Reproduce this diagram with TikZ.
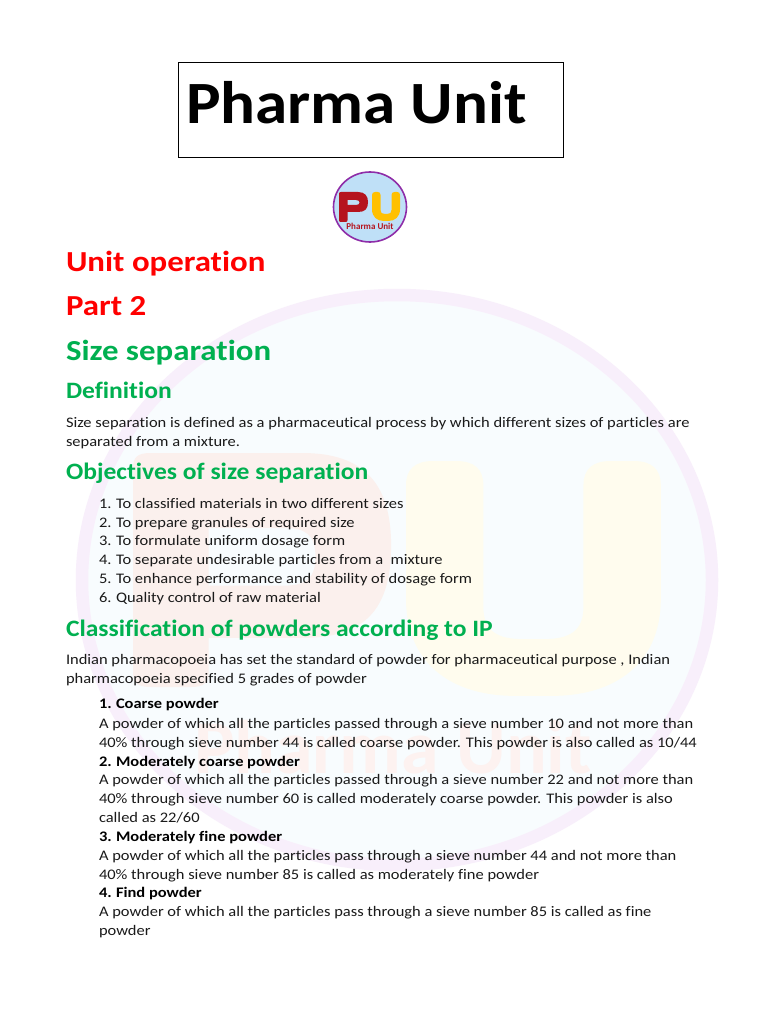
\documentclass[tikz,border=0pt]{standalone}
\usepackage{fontspec}
\setmainfont[FakeStretch=1.128,Ligatures=NoCommon]{Carlito}
\newfontfamily\headfont[FakeStretch=1.133,Ligatures=NoCommon]{Carlito}
\newfontfamily\subfont[FakeStretch=1.088,Ligatures=NoCommon]{Carlito}
\newfontfamily\titlefont[FakeStretch=1.085,Ligatures=NoCommon]{Carlito}
\newfontfamily\plainfont[Ligatures=NoCommon]{Carlito}
\definecolor{hred}{HTML}{FF0000}
\definecolor{hgreen}{HTML}{00B050}
\definecolor{btext}{HTML}{1A1A1A}
\definecolor{wmring}{HTML}{F8EFFB}
\definecolor{wmfill}{HTML}{F8FCFE}
\definecolor{wmp}{HTML}{FBF0ED}
\definecolor{wmu}{HTML}{FFFCEE}
\definecolor{wmtext}{HTML}{FDF2F0}
\definecolor{lgring}{HTML}{8E2DA8}
\definecolor{lgfill}{HTML}{BFE0F7}
\definecolor{lgp}{HTML}{B5141E}
\definecolor{lgu}{HTML}{FFC000}
% #1 bowl bottom, #2 hole top, #3 hole bottom
\newcommand{\PathP}[3]{(0,2) .. controls (0,0.5) and (0.5,0) .. (2,0) -- (19,0) .. controls (26,0) and (29,4) .. (29,{#1*0.5}) .. controls (29,{#1*0.85}) and (26,#1) .. (19,#1) -- (8.5,#1) -- (8.5,28) .. controls (8.5,29.5) and (8,30) .. (6.5,30) -- (2,30) .. controls (0.5,30) and (0,29.5) .. (0,28) -- cycle (8.5,#2) -- (8.5,#3) -- (17,#3) .. controls (19.5,#3) and (20.5,{#3-1}) .. (20.5,{(#2+#3)*0.5}) .. controls (20.5,{#2+1}) and (19.5,#2) .. (17,#2) -- cycle}
\newcommand{\PathU}{(0,3) .. controls (0,1) and (1,0) .. (3,0) -- (5.5,0) .. controls (7.5,0) and (8.5,1) .. (8.5,3) -- (8.5,18) .. controls (8.5,21) and (10,22) .. (13,22) -- (15,22) .. controls (18,22) and (19.5,21) .. (19.5,18) -- (19.5,3) .. controls (19.5,1) and (20.5,0) .. (22.5,0) -- (25,0) .. controls (27,0) and (28,1) .. (28,3) -- (28,17) .. controls (28,25) and (23,29) .. (16,29) -- (12,29) .. controls (5,29) and (0,25) .. (0,17) -- cycle}
\tikzset{
 tx/.style={anchor=base west,inner sep=0pt,outer sep=0pt,text=btext,font=\fontsize{14.6}{18}\selectfont},
 bd/.style={tx,text=black,font=\fontsize{14.6}{18}\selectfont\bfseries},
 h1/.style={tx,text=hred,font=\headfont\fontsize{29}{32}\selectfont\bfseries},
 h2/.style={tx,text=hgreen,font=\headfont\fontsize{29}{32}\selectfont\bfseries},
 h3/.style={tx,text=hgreen,font=\subfont\fontsize{23.5}{28}\selectfont\bfseries},
 titlebox/.style={draw=black,line width=0.8pt,fill=white},
}
\begin{document}
\begin{tikzpicture}[x=1pt,y=-1pt]
\useasboundingbox (0,0) rectangle (768,1024);
\fill[white] (0,0) rectangle (768,1024);
% watermark
\fill[wmfill,draw=wmring,line width=12.5pt] (397,580) ellipse (315 and 285);
\begin{scope}[shift={(133,453)},x=8.9pt,y=-7.8pt]
\fill[wmp,even odd rule] \PathP{23.7}{9.6}{17};
\end{scope}
\begin{scope}[shift={(406,461)},x=9.1pt,y=-8.1pt]
\fill[wmu] \PathU;
\end{scope}
\node[anchor=base,inner sep=0pt,text=wmtext,font=\plainfont\fontsize{76}{80}\selectfont\bfseries] (wmtxt) at (393,773) {Pharma Unit};
% title
\draw[titlebox] (178.5,62.5) rectangle (563.5,157.5);
\node[tx,text=black,font=\titlefont\fontsize{60}{64}\selectfont\bfseries] (title) at (186,123.5) {Pharma Unit};
% logo
\fill[lgfill,draw=lgring,line width=1.6pt] (370,207) ellipse (36.5 and 35);
\begin{scope}[shift={(339,192)},x=1pt,y=-1pt]
\fill[lgp,even odd rule] \PathP{20}{8}{13};
\end{scope}
\begin{scope}[shift={(372,192)},x=1pt,y=-1pt]
\fill[lgu] \PathU;
\end{scope}
\node[anchor=base,inner sep=0pt,text=lgp,font=\plainfont\fontsize{9}{10}\selectfont\bfseries] (logotxt) at (370,229.5) {Pharma Unit};
% headings
\node[h1] (h-a) at (66,271) {Unit operation};
\node[h1] (h-b) at (66,315) {Part 2};
\node[h2] (h-c) at (66,360) {Size separation};
\node[h3] (h-d) at (66,398) {Definition};
\node[tx] (d1) at (66,427) {Size separation is defined as a pharmaceutical process by which different sizes of particles are};
\node[tx] (d2) at (66,446) {separated from a mixture.};
\node[h3] (h-e) at (66,479) {Objectives of size separation};
\foreach \n/\y/\t in {1/508/To classified materials in two different sizes,
 2/527/To prepare granules of required size,
 3/545/To formulate uniform dosage form,
 4/564/To separate undesirable particles from a\ \ mixture,
 5/583/To enhance performance and stability of dosage form,
 6/602/Quality control of raw material}{
 \node[tx] (on\n) at (99,\y) {\n.};
 \node[tx] (ot\n) at (116,\y) {\t};
}
\node[h3] (h-f) at (66,636) {Classification of powders according to IP};
\node[tx] (i1) at (66,664) {Indian pharmacopoeia has set the standard of powder for pharmaceutical purpose , Indian};
\node[tx] (i2) at (66,683) {pharmacopoeia specified 5 grades of powder};
\node[bd] (n1) at (99,708) {1.}; \node[bd] (t1) at (116,708) {Coarse powder};
\node[tx] (p1) at (99,728) {A powder of which all the particles passed through a sieve number 10 and not more than};
\node[tx] (p2) at (99,747) {40\% through sieve number 44 is called coarse powder. This powder is also called as 10/44};
\node[bd] (n2) at (99,766) {2.}; \node[bd] (t2) at (116,766) {Moderately coarse powder};
\node[tx] (p3) at (99,784) {A powder of which all the particles passed through a sieve number 22 and not more than};
\node[tx] (p4) at (99,803) {40\% through sieve number 60 is called moderately coarse powder. This powder is also};
\node[tx] (p5) at (99,822) {called as 22/60};
\node[bd] (n3) at (99,841) {3.}; \node[bd] (t3) at (116,841) {Moderately fine powder};
\node[tx] (p6) at (99,860) {A powder of which all the particles pass through a sieve number 44 and not more than};
\node[tx] (p7) at (99,879) {40\% through sieve number 85 is called as moderately fine powder};
\node[bd] (n4) at (99,897) {4.}; \node[bd] (t4) at (116,897) {Find powder};
\node[tx] (p8) at (99,916) {A powder of which all the particles pass through a sieve number 85 is called as fine};
\node[tx] (p9) at (99,935) {powder};
\end{tikzpicture}
\end{document}
